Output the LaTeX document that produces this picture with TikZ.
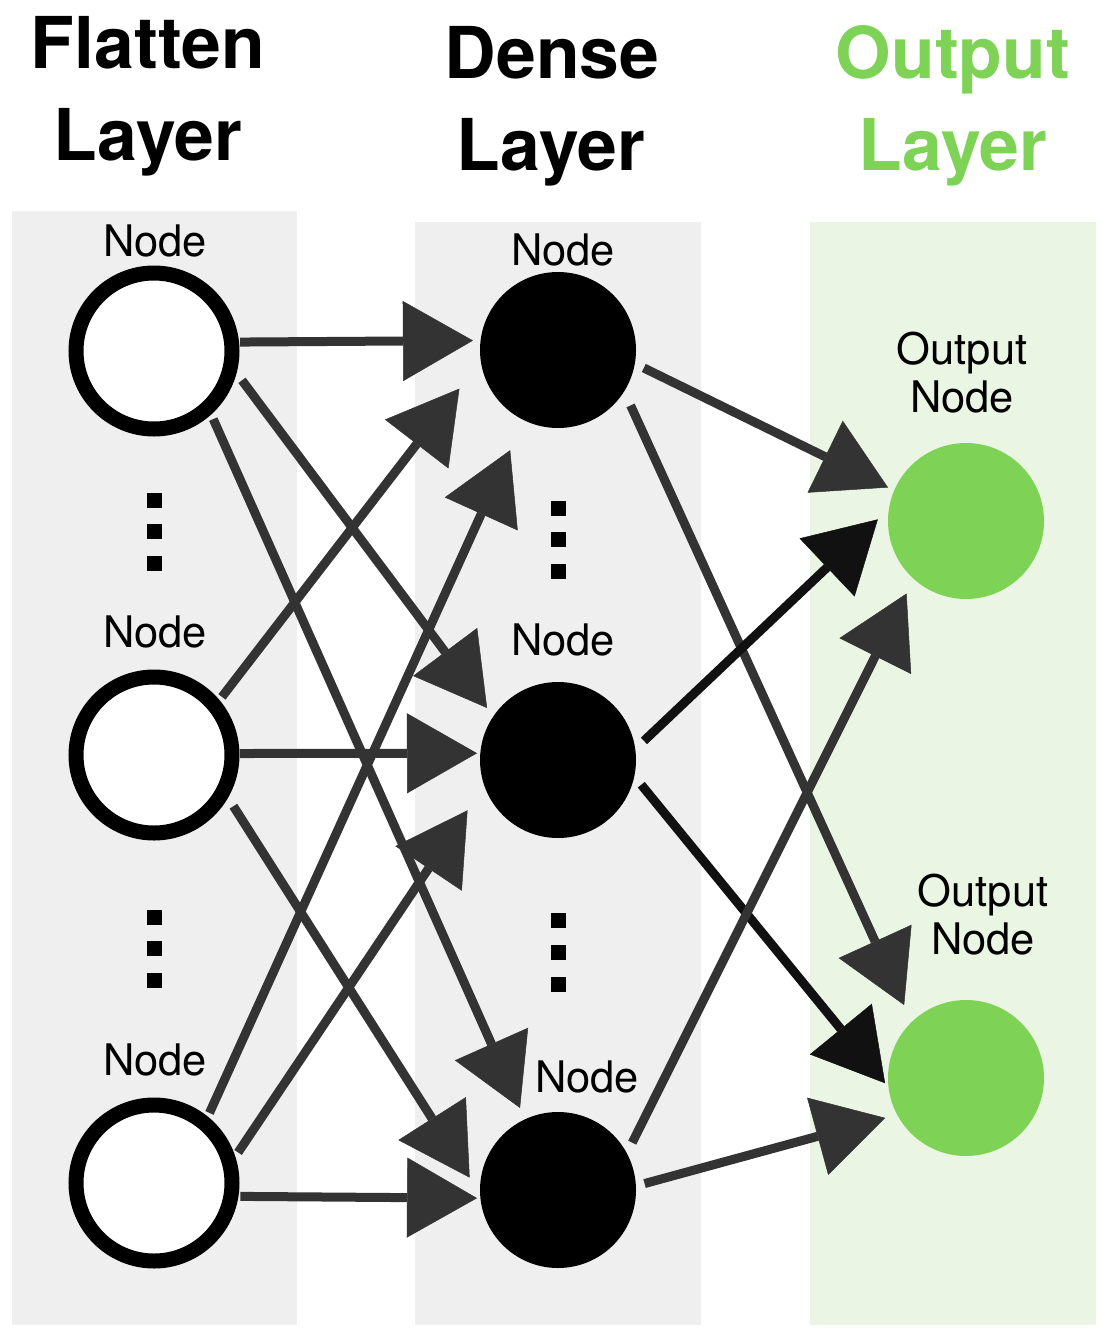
\documentclass[tikz,border=0pt]{standalone}
\usepackage{fontspec}
\setmainfont{TeX Gyre Heros}
\usetikzlibrary{arrows.meta}
\definecolor{bggray}{HTML}{EFEFEF}
\definecolor{bggreen}{HTML}{EAF6E3}
\definecolor{ngreen}{HTML}{7ED357}
\definecolor{arrgray}{HTML}{333333}
\definecolor{arrdk}{HTML}{111111}
\begin{document}
\begin{tikzpicture}[x=1pt,y=-1pt,
  flat/.style={circle,draw=black,line width=15pt,fill=white,minimum size=156pt,inner sep=0pt},
  dense/.style={circle,fill=black,minimum size=156pt,inner sep=0pt,outer sep=0pt},
  outn/.style={circle,fill=ngreen,minimum size=156pt,inner sep=0pt,outer sep=0pt},
  lbl/.style={font=\fontsize{43.5}{48}\selectfont,anchor=base,inner sep=0pt},
  ttl/.style={font=\fontsize{71.5}{84}\selectfont\bfseries,anchor=base,inner sep=0pt},
  dotsq/.style={rectangle,fill=black,minimum size=15pt,inner sep=0pt},
  arr/.style={draw=arrgray,line width=9pt,-{Triangle[length=70pt,width=80pt,line width=0.5pt]}},
  arrdark/.style={arr,draw=arrdk}]
\useasboundingbox (0,0) rectangle (1106,1336);
\fill[white] (0,0) rectangle (1106,1336);
% column backgrounds
\fill[bggray] (12,211) rectangle (297,1325);
\fill[bggray] (415,222) rectangle (701,1325);
\fill[bggreen] (810,222) rectangle (1096,1325);
% titles
\node[ttl] (t1a) at (148,68) {Flatten};
\node[ttl] (t1b) at (148,160) {Layer};
\node[ttl] (t2a) at (552,78) {Dense};
\node[ttl] (t2b) at (551,170) {Layer};
\node[ttl,text=ngreen] (t3a) at (953,78) {Output};
\node[ttl,text=ngreen] (t3b) at (953,170) {Layer};
% flatten nodes
\node[flat] (f1) at (154,351) {};
\node[flat] (f2) at (154,755) {};
\node[flat] (f3) at (154,1183) {};
\node[lbl] (lf1) at (155,256) {Node};
\node[lbl] (lf2) at (155,647) {Node};
\node[lbl] (lf3) at (155,1075) {Node};
% dense nodes
\node[dense] (d1) at (558,350) {};
\node[dense] (d2) at (558,760) {};
\node[dense] (d3) at (558,1190) {};
\node[lbl] (ld1) at (563,265) {Node};
\node[lbl] (ld2) at (563,655) {Node};
\node[lbl] (ld3) at (587,1092) {Node};
% output nodes
\node[outn] (o1) at (966,521) {};
\node[outn] (o2) at (966,1078) {};
\node[lbl] (lo1a) at (962,364) {Output};
\node[lbl] (lo1b) at (962,412) {Node};
\node[lbl] (lo2a) at (983,906) {Output};
\node[lbl] (lo2b) at (983,954) {Node};
% dots
\foreach \y [count=\i] in {500,531,563,917,948,980}
  \node[dotsq] (fd\i) at (154,\y) {};
\foreach \y [count=\i] in {508,539,571,920,952,984}
  \node[dotsq] (dd\i) at (558,\y) {};
% connectors flatten -> dense
\draw[arr,shorten <=1pt,shorten >=7.6pt] (f1.6) -- (d1.173);
\draw[arr,shorten <=9pt,shorten >=10.5pt] (f1.-15) -- (d2.146);
\draw[arr,shorten <=5pt,shorten >=12.4pt] (f1.-48) -- (d3.115);
\draw[arr,shorten <=4pt,shorten >=35pt] (f2.40) -- (d1.188);
\draw[arr,shorten <=0.5pt,shorten >=3.3pt] (f2.1) -- (d2.175);
\draw[arr,shorten <=10pt,shorten >=19.5pt] (f2.-30) -- (d3.183);
\draw[arr,shorten <=4pt,shorten >=33pt] (f3.51) -- (d1.244);
\draw[arr,shorten <=5pt,shorten >=30pt] (f3.18) -- (d2.199);
\draw[arr,shorten <=2pt,shorten >=3.4pt] (f3.-9) -- (d3.186);
% connectors dense -> output
\draw[arr,shorten <=10pt,shorten >=6.9pt] (d1.-10) -- (o1.157);
\draw[arr,shorten <=15.5pt,shorten >=18.5pt] (d1.-32) -- (o2.134);
\draw[arrdark,shorten <=12pt,shorten >=15.3pt] (d2.8) -- (o1.171);
\draw[arrdark,shorten <=11pt,shorten >=5.5pt] (d2.-12) -- (o2.187);
\draw[arr,shorten <=12pt,shorten >=16.2pt] (d3.28) -- (o1.228);
\draw[arr,shorten <=9pt,shorten >=12.4pt] (d3.3) -- (o2.208);
\end{tikzpicture}
\end{document}
